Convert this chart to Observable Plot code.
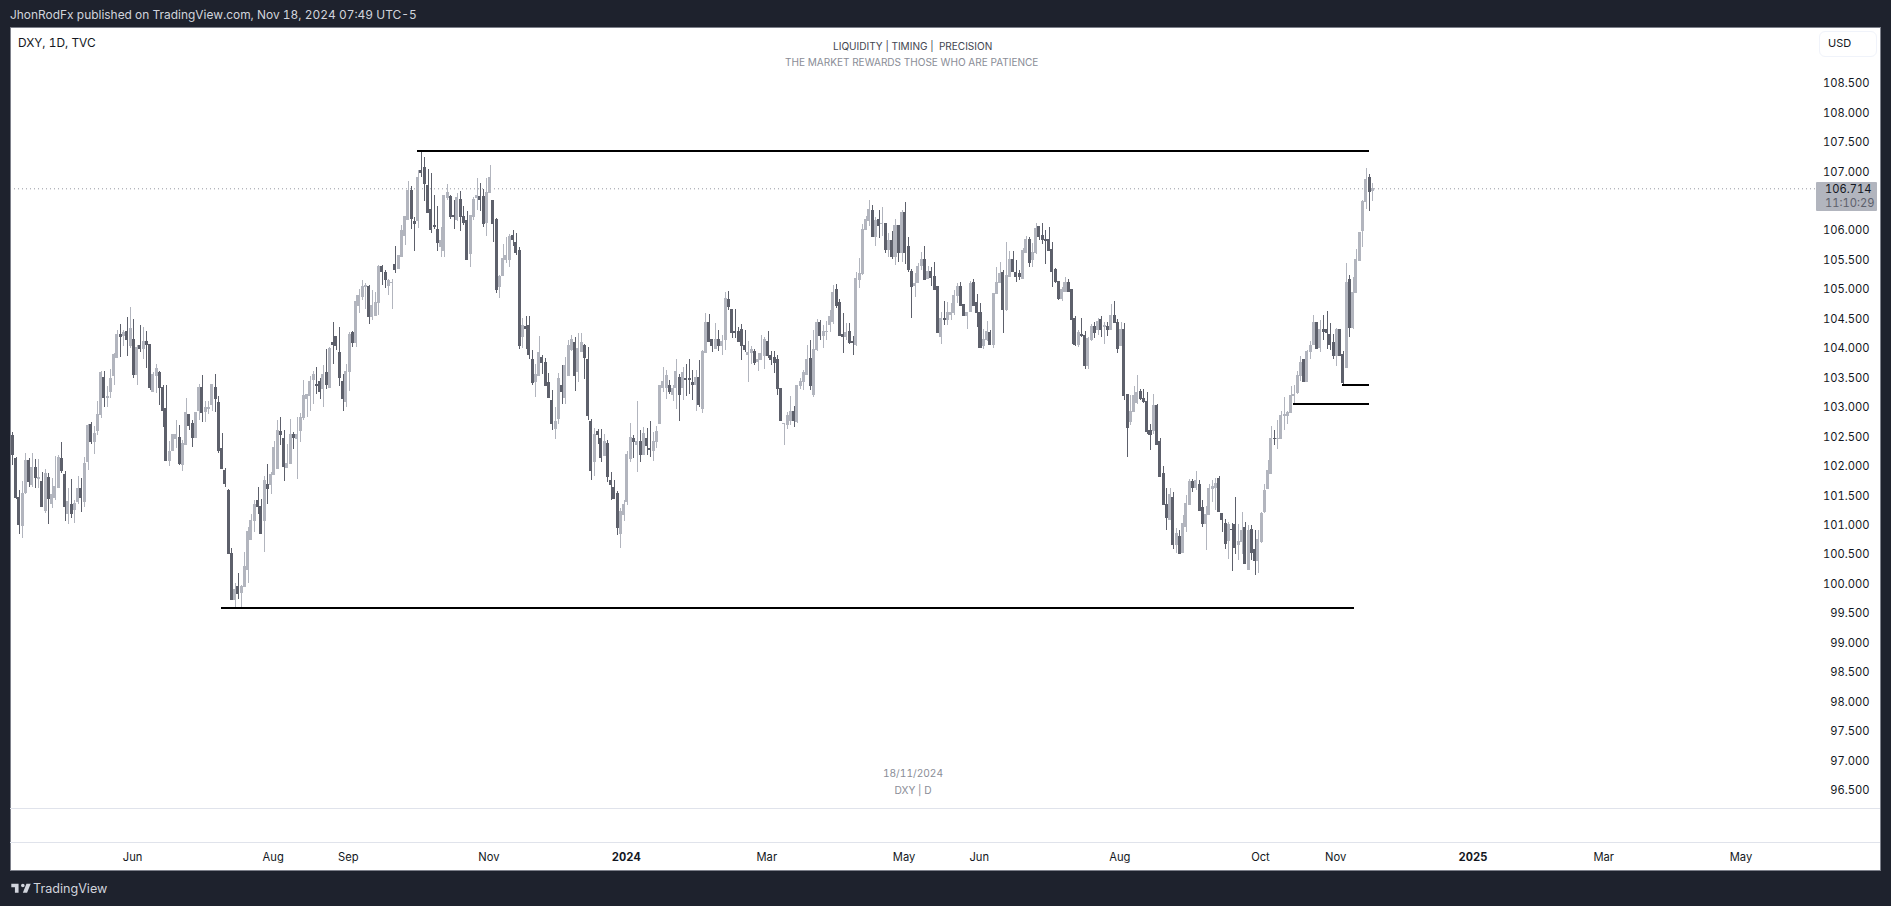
<!DOCTYPE html>
<html><head><meta charset="utf-8">
<script src="https://cdn.jsdelivr.net/npm/d3@7"></script>
<script src="https://cdn.jsdelivr.net/npm/@observablehq/plot@0.6"></script>
<style>
html,body{margin:0;padding:0;width:1891px;height:906px;overflow:hidden;background:#1e222d;font-family:Inter,"Noto Sans",sans-serif;font-variant-numeric:tabular-nums;}
.a{position:absolute;white-space:pre;line-height:1;}
#panel{position:absolute;left:10px;top:27px;width:1870px;height:843px;background:#fff;}
#panel svg{display:block;}
.sep{position:absolute;left:10px;width:1870px;height:1px;background:#e0e3eb;}
.edge{position:absolute;background:#7d808a;}
</style></head><body>
<div class="a" style="left:10px;top:9px;font-size:11.95px;color:#d1d4dc">JhonRodFx published on TradingView.com, Nov 18, 2024 07:49 UTC-5</div>
<div id="panel"></div>
<div class="edge" style="left:10px;top:27px;width:1871px;height:1px"></div>
<div class="edge" style="left:10px;top:27px;width:1px;height:844px"></div>
<div class="edge" style="left:10px;top:870px;width:1871px;height:1px"></div>
<div class="edge" style="left:1880px;top:27px;width:1px;height:844px"></div>
<div class="sep" style="top:808px"></div>
<div class="sep" style="top:842px"></div>
<div class="a" style="left:18px;top:37px;font-size:11.9px;color:#131722">DXY, 1D, TVC</div>
<div class="a" style="left:833px;top:41px;font-size:10.05px;color:#434651">LIQUIDITY | TIMING |  PRECISION</div>
<div class="a" style="left:785px;top:57px;font-size:10.05px;color:#8a8d97">THE MARKET REWARDS THOSE WHO ARE PATIENCE</div>
<div class="a" style="left:813px;width:200px;text-align:center;top:768px;font-size:10.2px;color:#8a8d97">18/11/2024</div>
<div class="a" style="left:813px;width:200px;text-align:center;top:785px;font-size:10.2px;color:#8a8d97">DXY | D</div>
<div style="position:absolute;left:1819px;top:31px;width:56px;height:24px;border:1px solid #f0f3fa;border-radius:6px;background:#fff"></div>
<div class="a" style="left:1828px;top:38px;font-size:11px;color:#131722">USD</div>
<div style="position:absolute;left:1816px;top:182px;width:61px;height:29px;background:#b2b5be;border-radius:1px"></div>
<div class="a" style="left:1825px;top:184px;font-size:11.2px;color:#131722">106.714</div>
<div class="a" style="left:1825px;top:198px;font-size:11.2px;color:#5d606b">11:10:29</div>
<svg style="position:absolute;left:10px;top:880px" width="22" height="17" viewBox="0 0 36 28"><path fill="#d1d4dc" d="M14 6H2v6h6v9h6V6Zm14 15h-7l6-15h7l-6 15Zm-7-9a3 3 0 1 0 0-6 3 3 0 0 0 0 6Z"/></svg>
<div class="a" style="left:33px;top:883px;font-size:12.6px;color:#d1d4dc">TradingView</div>
<script>
const highs=[102.57,102.15,101.59,101.75,102.22,102.14,102.22,102.12,102.12,101.89,
101.95,101.88,101.80,102.17,102.19,102.40,101.92,101.63,101.78,101.42,
101.83,101.80,102.15,102.71,102.75,102.68,103.10,103.61,103.61,103.36,
103.65,103.92,104.31,104.41,104.31,104.53,104.70,104.50,104.06,104.40,
104.36,104.29,104.07,103.60,103.74,103.61,103.38,103.38,102.43,102.54,
102.78,102.70,102.44,103.16,102.87,102.78,102.90,103.40,103.55,103.10,
103.10,103.39,103.56,103.19,102.56,101.97,101.61,100.61,100.01,100.18,
99.98,100.54,100.97,101.19,101.42,101.65,101.44,101.83,102.04,101.90,
102.43,102.78,102.83,102.61,102.37,102.80,102.58,102.83,102.90,103.46,
103.21,103.53,103.61,103.68,103.50,103.72,103.99,104.02,104.45,104.21,
104.36,103.56,103.73,104.28,104.29,104.90,105.00,105.16,105.10,105.07,
104.99,104.96,105.41,105.41,105.33,105.18,105.18,105.73,105.58,106.09,
106.24,106.84,106.75,106.23,107.02,107.35,107.25,107.05,106.97,106.60,
106.41,106.06,106.60,106.79,106.60,106.51,106.63,106.67,106.41,106.33,
106.26,106.56,106.89,106.80,106.70,106.89,107.11,106.50,106.21,105.24,
105.77,105.89,105.93,106.01,105.96,105.72,104.51,104.55,104.55,103.97,
103.74,104.20,103.88,103.83,103.58,103.29,103.01,103.58,103.71,103.85,
104.14,104.22,104.19,104.26,104.26,104.07,104.02,102.80,102.64,102.63,
102.63,102.54,102.44,101.90,101.76,101.57,101.28,101.42,102.25,102.73,
102.53,103.10,102.61,102.66,102.64,102.76,102.58,102.68,103.36,103.68,
103.63,103.46,103.37,103.81,103.57,103.68,103.73,103.81,103.63,103.63,
103.80,103.97,104.60,104.58,104.15,104.43,104.31,104.22,104.95,104.97,
104.66,104.66,104.36,104.41,104.31,104.12,104.04,103.98,103.91,104.22,
104.19,104.29,103.95,103.95,103.88,103.32,102.73,102.92,103.18,103.02,
103.37,103.49,103.63,104.05,104.14,104.31,104.49,104.48,104.39,104.46,
104.65,105.07,105.09,104.83,104.59,104.43,104.43,104.20,105.29,105.53,
106.10,106.24,106.52,106.43,106.23,106.35,106.40,106.12,105.95,105.99,
106.19,106.09,106.35,106.48,105.89,105.34,105.27,105.44,105.63,105.73,
105.40,105.37,105.46,105.06,104.61,104.80,104.78,104.76,104.99,105.10,
105.12,104.75,104.61,105.14,105.17,104.92,104.77,104.33,104.46,104.31,
104.93,105.37,105.46,105.33,105.80,105.65,105.65,105.50,105.33,105.70,
105.90,105.89,105.78,106.12,106.07,106.12,106.01,106.06,105.80,105.36,
105.14,105.04,105.20,105.17,104.99,104.55,104.31,104.51,104.29,104.19,
104.41,104.45,104.52,104.55,104.44,104.44,104.75,104.80,104.50,104.44,
104.43,103.22,103.20,103.35,103.54,103.31,103.31,103.26,102.71,103.22,
103.05,102.47,102.00,101.63,101.63,101.56,100.94,100.92,101.17,101.51,
101.78,101.78,101.91,101.76,101.42,101.32,101.70,101.76,101.80,101.83,
101.20,101.10,101.05,101.03,101.47,101.01,101.22,101.05,101.00,101.00,
100.91,100.91,101.22,101.69,102.10,102.68,102.61,102.78,102.93,103.17,
102.93,103.36,103.37,103.61,103.87,103.80,103.97,104.12,104.56,104.44,
104.48,104.56,104.63,104.43,104.24,104.34,104.31,103.95,105.44,105.24,
105.21,105.69,105.96,106.52,107.06,106.96,106.81];
const lows=[102.02,101.44,100.85,100.78,101.53,101.65,101.65,101.63,101.62,101.32,
101.21,101.02,101.29,101.42,101.62,101.88,101.07,101.02,101.12,101.03,
101.36,101.22,101.30,101.93,102.37,102.21,102.53,102.82,103.00,103.00,
103.16,103.38,103.84,103.85,104.04,103.87,104.00,103.50,103.38,103.94,
103.82,103.67,103.29,103.27,103.24,103.04,102.66,102.09,102.00,102.26,
102.31,102.02,101.92,102.36,102.61,102.32,102.48,102.78,102.75,102.75,
102.88,102.94,102.92,102.22,101.95,101.65,100.51,99.74,99.58,99.74,
99.59,99.95,100.01,100.75,100.88,101.19,100.86,100.54,101.36,101.53,
101.85,101.95,102.36,101.75,101.97,102.05,102.29,101.78,102.41,102.78,
102.83,102.94,103.05,103.22,103.14,103.00,103.31,103.34,103.73,103.97,
103.36,102.94,103.00,103.27,104.02,104.02,104.59,104.82,104.67,104.41,
104.48,104.56,104.56,105.07,105.03,104.90,104.66,105.28,105.34,105.55,
105.75,106.19,106.02,105.65,106.04,106.90,106.50,106.31,105.95,106.02,
105.65,105.55,105.55,106.51,106.19,106.02,106.16,105.99,106.09,105.51,
105.37,106.17,106.34,106.33,106.06,105.90,106.63,105.80,104.94,104.85,
105.24,105.45,105.38,105.73,105.58,103.98,104.00,103.98,103.81,103.37,
103.17,103.53,103.57,103.36,103.17,102.61,102.46,102.71,103.05,103.05,
103.53,103.96,103.27,103.42,103.95,103.48,102.78,101.76,101.83,102.37,
102.07,102.17,101.73,101.42,101.44,100.83,100.61,101.07,101.34,102.07,
102.13,101.90,102.07,102.20,102.19,102.15,102.08,102.30,102.73,103.26,
103.14,103.23,103.10,102.97,102.76,103.12,103.19,103.23,103.12,102.93,
103.01,102.90,103.93,104.12,103.93,103.98,103.95,103.88,103.97,104.65,
104.17,104.17,104.12,103.80,103.93,103.42,103.74,103.71,103.61,103.80,
103.65,103.83,103.71,103.58,103.20,102.78,102.36,102.63,102.70,102.66,
102.73,103.31,103.29,103.56,103.29,103.17,103.95,104.14,104.00,104.14,
104.28,104.41,104.68,104.21,103.92,104.14,104.07,103.88,104.04,105.02,
105.24,106.01,106.07,105.89,105.73,105.87,105.90,105.62,105.55,105.52,
105.41,105.46,105.47,105.43,105.29,104.52,104.87,105.12,105.33,105.17,
105.17,105.05,104.99,104.26,104.07,104.39,104.39,104.48,104.56,104.76,
104.73,104.56,104.32,104.62,104.72,104.36,104.02,103.99,104.13,104.05,
104.00,104.92,105.11,104.26,104.63,105.21,105.31,105.12,105.16,105.19,
105.62,105.37,105.37,105.60,105.84,105.77,105.43,105.65,105.04,105.11,
104.82,104.80,104.95,104.95,104.07,104.04,104.02,104.19,103.65,103.65,
104.12,104.17,104.22,104.19,104.07,104.21,104.31,104.43,103.92,104.04,
103.12,102.15,102.70,102.92,103.05,103.12,103.07,102.54,102.27,102.54,
102.37,101.83,101.35,100.91,101.08,100.59,100.53,100.50,100.54,100.88,
101.35,101.56,101.59,101.23,100.96,100.57,101.17,101.39,101.25,101.22,
100.88,100.59,100.42,100.22,100.50,100.40,100.50,100.34,100.23,100.40,
100.15,100.18,100.69,101.20,101.61,101.88,102.36,102.29,102.46,102.61,
102.71,102.90,103.03,103.23,103.44,103.44,103.43,103.82,104.07,104.00,
103.93,104.14,103.99,103.97,103.82,103.69,103.87,103.36,103.68,104.19,
104.33,104.93,105.49,105.72,106.37,106.33,106.50];
const opens=[102.51,102.12,101.47,100.99,101.55,102.10,101.68,101.98,101.78,101.73,
101.24,101.81,101.37,101.46,101.64,102.13,101.85,101.19,101.34,101.27,
101.39,101.61,101.39,102.07,102.70,102.41,102.60,102.88,103.51,103.17,
103.26,103.53,103.84,104.23,104.21,104.29,104.04,104.14,103.55,104.04,
103.99,104.12,104.07,103.27,103.53,103.58,103.33,102.97,102.10,102.27,
102.46,102.49,102.02,102.36,102.87,102.73,102.49,102.94,103.34,102.92,
102.97,103.05,103.34,103.07,102.29,101.93,101.59,100.52,99.73,99.96,
99.86,99.96,100.25,100.76,101.07,101.42,101.32,101.08,101.68,101.68,
101.85,101.95,102.58,102.46,101.98,102.05,102.54,102.46,102.60,102.83,
103.14,103.19,103.46,103.39,103.43,103.31,103.58,103.34,104.09,104.19,
103.92,103.44,103.09,103.60,104.26,104.10,104.73,104.87,105.04,105.05,
104.54,104.56,104.77,105.38,105.29,105.06,105.11,105.42,105.36,105.55,
105.92,106.19,106.67,106.15,106.16,107.02,107.06,106.77,106.36,106.09,
106.02,105.72,105.65,106.55,106.58,106.26,106.19,106.53,106.24,106.16,
105.60,106.24,106.55,106.58,106.58,106.14,106.65,106.50,106.19,105.05,
105.24,105.51,105.51,105.92,105.80,105.65,104.19,104.36,104.39,103.81,
103.44,103.53,103.85,103.75,103.41,103.12,102.63,102.81,103.36,103.17,
103.53,103.97,104.10,103.61,103.95,104.04,103.81,102.76,102.08,102.59,
102.46,102.17,102.39,101.76,101.64,101.54,100.85,101.17,101.39,102.13,
102.46,102.37,102.42,102.20,102.47,102.29,102.27,102.42,102.73,103.34,
103.34,103.37,103.22,103.34,103.51,103.34,103.49,103.48,103.42,103.39,
103.51,102.97,103.93,104.43,104.14,104.00,104.14,104.05,104.15,104.83,
104.66,104.29,104.28,104.31,104.04,103.90,103.93,103.95,103.78,103.81,
103.87,104.12,103.88,103.85,103.81,103.31,102.72,102.71,102.78,102.92,
102.75,103.36,103.43,103.56,103.83,103.22,103.97,104.43,104.21,104.28,
104.41,104.46,105.00,104.77,104.23,104.20,104.29,104.12,104.07,105.16,
105.26,106.01,106.16,106.33,105.90,106.19,106.11,106.12,105.67,105.82,
105.55,106.09,105.63,106.31,105.73,105.31,105.07,105.12,105.41,105.51,
105.19,105.31,105.21,105.04,104.19,104.50,104.48,104.58,104.60,104.89,
105.04,104.75,104.56,104.63,105.12,104.77,104.61,104.04,104.14,104.26,
104.07,104.92,105.12,105.28,104.65,105.21,105.51,105.29,105.26,105.19,
105.62,105.84,105.50,105.63,106.06,105.92,105.85,105.84,105.67,105.33,
105.14,104.85,104.97,105.12,104.99,104.51,104.07,104.24,104.22,103.70,
104.14,104.36,104.31,104.48,104.36,104.36,104.31,104.55,104.43,104.05,
104.31,103.22,102.76,102.93,103.07,103.26,103.15,103.09,102.61,102.61,
103.03,102.41,101.88,101.34,101.10,101.46,100.66,100.81,100.54,100.98,
101.35,101.73,101.64,101.68,101.29,101.03,101.17,101.61,101.64,101.78,
101.20,101.03,100.74,100.93,101.00,100.66,100.71,100.96,100.25,100.93,
100.59,100.40,100.72,101.22,101.61,101.88,102.47,102.46,102.46,102.86,
102.86,102.90,103.19,103.24,103.53,103.80,103.44,103.95,104.07,104.43,
104.02,104.31,104.31,104.24,104.09,103.87,104.31,103.90,103.68,105.16,
104.35,104.95,105.49,105.99,106.49,106.90,106.67];
const closes=[102.19,101.47,101.00,101.54,102.10,101.73,101.97,101.81,101.81,101.32,
101.87,101.44,101.51,101.66,102.15,101.93,101.32,101.39,101.20,101.37,
101.61,101.46,102.05,102.68,102.41,102.56,102.88,103.58,103.17,103.18,
103.48,103.89,104.24,104.20,104.26,104.14,104.33,103.55,104.02,103.99,
104.12,104.07,103.33,103.56,103.65,103.33,102.94,102.10,102.24,102.53,
102.54,102.05,102.39,102.90,102.68,102.48,102.90,103.34,102.90,102.99,
102.99,103.38,103.14,102.26,101.95,101.71,100.51,99.74,99.91,99.83,
99.95,100.29,100.88,101.07,101.34,101.32,100.86,101.76,101.61,101.85,
102.31,102.60,102.53,102.00,102.05,102.53,102.48,102.53,102.83,103.19,
103.21,103.43,103.56,103.36,103.27,103.56,103.39,103.99,104.06,104.04,
103.51,103.14,103.61,104.24,104.09,104.80,104.90,105.05,105.07,104.54,
104.73,104.77,105.39,105.30,105.17,105.15,105.12,105.34,105.58,105.99,
106.23,106.67,106.21,106.12,106.90,106.99,106.79,106.31,106.02,106.06,
105.80,105.82,106.60,106.65,106.23,106.24,106.56,106.23,106.14,105.51,
106.26,106.53,106.60,106.53,106.11,106.65,106.89,106.11,105.00,105.21,
105.53,105.58,105.90,105.84,105.62,104.04,104.39,104.34,103.90,103.42,
103.56,103.92,103.75,103.37,103.17,102.73,102.76,103.49,103.26,103.71,
104.05,104.15,103.53,104.00,104.09,103.85,102.85,101.93,102.54,102.54,
102.15,102.41,101.83,101.68,101.44,100.96,101.22,101.34,102.20,102.49,
102.41,102.41,102.19,102.56,102.34,102.28,102.41,102.59,103.36,103.44,
103.53,103.27,103.32,103.61,103.22,103.58,103.46,103.46,103.39,103.51,
103.05,103.95,104.44,104.12,104.04,104.14,104.05,104.12,104.85,104.70,
104.26,104.26,104.12,104.04,103.97,103.93,103.97,103.76,103.80,103.91,
104.14,103.87,103.81,103.75,103.32,102.78,102.73,102.85,102.92,102.78,
103.36,103.44,103.58,103.81,103.36,103.97,104.43,104.21,104.29,104.29,
104.53,104.95,104.73,104.21,104.19,104.27,104.10,104.10,105.19,105.26,
106.01,106.18,106.36,105.90,106.16,106.09,106.12,105.67,105.82,105.55,
106.09,105.62,106.31,105.62,105.33,105.05,105.09,105.38,105.50,105.17,
105.31,105.20,105.00,104.26,104.50,104.48,104.61,104.61,104.90,105.04,
104.73,104.56,104.61,105.10,104.72,104.60,104.02,104.14,104.29,104.07,
104.93,105.11,105.26,104.66,105.24,105.51,105.31,105.21,105.21,105.65,
105.84,105.46,105.62,106.04,105.90,105.84,105.82,105.65,105.31,105.14,
104.85,105.00,105.12,104.97,104.48,104.07,104.26,104.21,103.71,104.17,
104.36,104.26,104.46,104.31,104.39,104.31,104.56,104.43,104.00,104.32,
103.20,102.66,102.93,103.19,103.24,103.14,103.09,102.58,102.54,103.03,
102.37,101.83,101.35,101.12,101.51,100.66,100.86,100.52,101.03,101.37,
101.73,101.63,101.76,101.25,101.03,101.18,101.61,101.66,101.71,101.22,
101.10,100.69,101.01,100.92,100.61,100.72,100.90,100.34,100.91,100.54,
100.40,100.76,101.20,101.59,101.93,102.47,102.46,102.47,102.86,102.88,
102.90,103.20,103.22,103.53,103.76,103.44,103.95,104.05,104.43,104.00,
104.31,104.29,104.26,104.07,103.87,104.31,103.87,103.42,105.11,104.35,
104.95,105.51,105.96,106.49,106.87,106.66,106.714];
const priceTicks=[96.5,97,97.5,98,98.5,99,99.5,100,100.5,101,101.5,102,102.5,103,103.5,104,104.5,105,105.5,106,107,107.5,108,108.5];
const monthBars=[37,80,103,146,231,273,296,339,382,405,487,529];
const monthNames=["Jun","Aug","Sep","Nov","Mar","May","Jun","Aug","Oct","Nov","Mar","May"];
const yearBars=[188,447];
const yearNames=["2024","2025"];
const levelFrom=[123.8,63.8,406.7,391.8];
const levelTo=[415,410.5,415,415];
const levelPrice=[107.36,99.6,103.39,103.06];
const lastPrice=106.714;

const bars=d3.range(highs.length);
const colorOf=i=>closes[i]>=opens[i]?"#b2b5be":"#5d606b";
const font="Inter,'Noto Sans',sans-serif";
const chart=Plot.plot({
  width:1870,height:843,
  marginLeft:0,marginRight:11,marginTop:0,marginBottom:27,
  style:{background:"#fff",fontFamily:font,fontVariantNumeric:"tabular-nums"},
  x:{domain:[0,bars.length-1],range:[2.33,1362.3]},
  y:{domain:[108.5,96.5],range:[56.1,763]},
  color:{type:"identity"},
  marks:[
    Plot.ruleY([lastPrice],{stroke:"#9598a1",strokeWidth:1,strokeDasharray:"1 3"}),
    Plot.ruleX(bars,{x:i=>i,y1:i=>lows[i],y2:i=>highs[i],stroke:colorOf,strokeWidth:1,shapeRendering:"crispEdges"}),
    Plot.rect(bars,{x1:i=>i-0.46,x2:i=>i+0.46,y1:i=>opens[i],y2:i=>closes[i],fill:colorOf,insetTop:-0.5,insetBottom:-0.5,shapeRendering:"crispEdges"}),
    Plot.ruleY(d3.range(levelPrice.length),{x1:i=>levelFrom[i],x2:i=>levelTo[i],y:i=>levelPrice[i],stroke:"#000",strokeWidth:2,shapeRendering:"crispEdges"}),
    Plot.axisY(priceTicks,{anchor:"right",tickSize:0,tickPadding:0,textAnchor:"end",tickFormat:d3.format(".3f"),fontSize:11.2,fill:"#131722",label:null}),
    Plot.axisX(monthBars,{anchor:"bottom",tickSize:0,tickPadding:10,dx:-1.2,tickFormat:d=>monthNames[monthBars.indexOf(d)],fontSize:11.2,fill:"#131722",label:null}),
    Plot.axisX(yearBars,{anchor:"bottom",tickSize:0,tickPadding:10,dx:-1.2,tickFormat:d=>yearNames[yearBars.indexOf(d)],fontSize:11.2,fontWeight:"bold",fill:"#131722",label:null})
  ]
});
document.getElementById("panel").appendChild(chart);
</script>
</body></html>
